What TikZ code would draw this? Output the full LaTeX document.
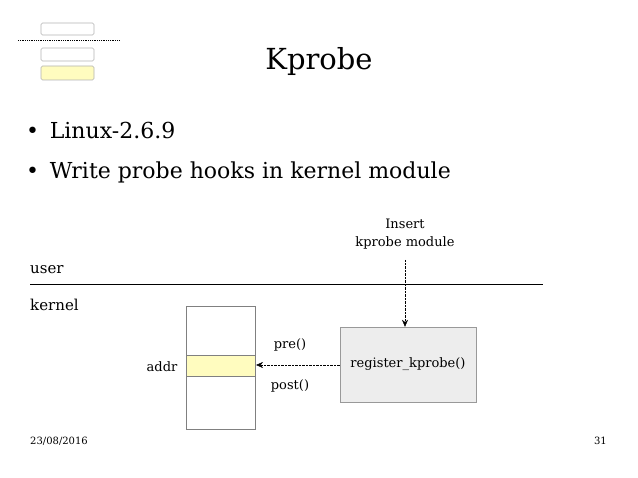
\documentclass[tikz,border=0pt]{standalone}
\usepackage{fontspec}
\setmainfont{DejaVu Serif}
\usetikzlibrary{arrows.meta}
\begin{document}
\begin{tikzpicture}[x=1pt,y=-1pt,
 sbox/.style={draw=black!30,rounded corners=1.5pt,line width=0.6pt},
 lbl/.style={font=\fontsize{13}{15}\selectfont,inner sep=0pt},
 dar/.style={densely dotted,-{Stealth[length=7pt,width=6pt]}}]
\useasboundingbox (0,0) rectangle (638,478);
\draw[sbox] (41,23) rectangle (94,35);
\draw[sbox] (41,48) rectangle (94,61);
\draw[sbox,fill=yellow!25] (41,66) rectangle (94,80);
\draw[densely dotted,line width=0.8pt] (18,40) -- (120,40);
\node[inner sep=0pt,font=\fontsize{29}{33}\selectfont] (title) at (319,62) {Kprobe};
\node[anchor=west,inner sep=0pt,font=\fontsize{22}{26}\selectfont] (b1) at (26,130) {\textbullet\ \,Linux-2.6.9};
\node[anchor=west,inner sep=0pt,font=\fontsize{22}{26}\selectfont] (b2) at (26,172) {\textbullet\ \,Write probe hooks in kernel module};
\node[lbl] (ins) at (405,224) {Insert};
\node[lbl] (kpm) at (405,243) {kprobe module};
\node[anchor=west,inner sep=0pt,font=\fontsize{15}{18}\selectfont] (user) at (30,270) {user};
\node[anchor=west,inner sep=0pt,font=\fontsize{15}{18}\selectfont] (kernel) at (30,305) {kernel};
\coordinate (l1) at (30,284); \coordinate (l2) at (543,284);
\draw[line width=0.5pt] (l1) -- (l2);
\draw[draw=black!50,line width=0.5pt] (186,306) rectangle (255,429);
\draw[draw=black!50,fill=yellow!25,line width=0.5pt] (186,355) rectangle (255,376);
\coordinate (slot) at (256,365);
\node[lbl] (addr) at (162,367) {addr};
\node[draw=black!40,fill=black!7,minimum width=136pt,minimum height=75pt,inner sep=0pt,font=\fontsize{13}{15}\selectfont] (reg) at (408,364.5) {register\_kprobe()};
\node[lbl] (pre) at (290,345) {pre()};
\node[lbl] (post) at (290,386) {post()};
\coordinate (top) at (405,260);
\draw[dar] (top) -- (reg.north -| top);
\draw[dar] (reg.west |- slot) -- (slot);
\node[anchor=west,inner sep=0pt,font=\fontsize{10}{12}\selectfont] (date) at (30,441) {23/08/2016};
\node[anchor=east,inner sep=0pt,font=\fontsize{10}{12}\selectfont] (pg) at (607,441) {31};
\end{tikzpicture}
\end{document}
